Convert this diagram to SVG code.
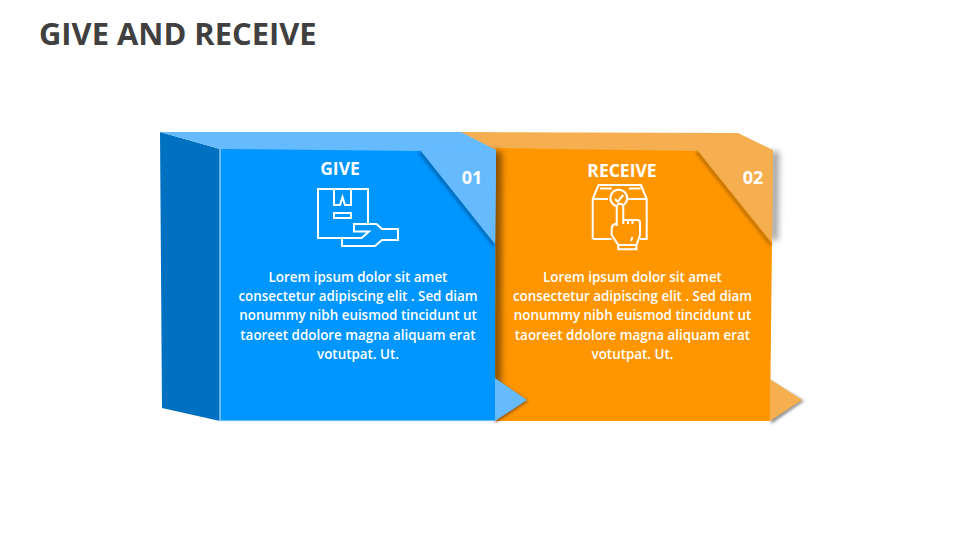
<svg xmlns="http://www.w3.org/2000/svg" width="960" height="540" viewBox="0 0 960 540">
<style>
text{font-family:"Open Sans","Liberation Sans",sans-serif;fill:#fff;text-anchor:middle}
.title{font-size:30.900px;font-weight:700;fill:#404040;text-anchor:start}
.head{font-size:17.500px;font-weight:700}
.num{font-size:18px;font-weight:700}
.body{font-size:13.400px;font-weight:600}
.ic{fill:none;stroke:#fff;stroke-width:2;stroke-linejoin:miter}
.bl{fill:#0096ff}.bt{fill:#66bbff}.bd{fill:#0070c0}
.ol{fill:#ff9600}.ot{fill:#f5ae50}
</style>
<defs>
<filter id="s" x="-200%" y="-30%" width="500%" height="160%"><feGaussianBlur stdDeviation="3"/></filter>
<filter id="s2" x="-30%" y="-30%" width="160%" height="160%"><feGaussianBlur stdDeviation="1.5"/></filter>
</defs>
<rect width="960" height="540" fill="#fff"/>
<text class="title" x="39" y="45">GIVE AND RECEIVE</text>
<g id="receive">
<path d="M770 151L779 152L778 240L770 240Z" fill="#444" opacity=".5" filter="url(#s)"/>
<path d="M770 381L804 401L771 424Z" fill="#444" opacity=".6" filter="url(#s2)"/>
<path class="ot" d="M460 132L738 133L773 150L772 245L500 160Z"/>
<path class="ol" d="M496 148L698 151L772 243L770 421L495 421Z"/>
<path d="M699 152L772 244L770 246L695 152Z" fill="#7a4a00" opacity=".55" filter="url(#s2)"/>
<path class="ot" d="M698 151L773 150L772 243Z"/>
<path class="ot" d="M770 379L802 400L770 421Z"/>
<text class="head" x="622" y="177">RECEIVE</text>
<text class="num" x="753" y="184">02</text>
<path class="ic" d="M592.700 239V199L598.500 185H641L646.700 199V239H640M592.700 239H611.700M592.700 199H608M628 199H646.700M600 188.500H611.700M629 188.500H640.700"/>
<path class="ic" d="M616 206A8.400 8.400 0 1 1 623.500 205M615 199L617.700 201.700L623.300 195"/>
<path class="ic" d="M616.700 226V207A3.300 3.300 0 0 1 623.300 207V220M623.300 224V220H628V224M628 220H632.500V224M632.500 220H637.500A2.500 2.500 0 0 1 640 222.500V235L636.500 245H618.300L611.700 235V228.500Q611.700 224.500 616.700 223.500M618.300 245V249.300H636.500V245M632.500 237L631 241"/>
<text class="body" x="632.500" y="282">Lorem ipsum dolor sit amet</text>
<text class="body" x="632.500" y="301">consectetur adipiscing elit . Sed diam</text>
<text class="body" x="632.500" y="320">nonummy nibh euismod tincidunt ut</text>
<text class="body" x="632.500" y="340">taoreet ddolore magna aliquam erat</text>
<text class="body" x="632.500" y="359">votutpat. Ut.</text>
</g>
<g id="give">
<path d="M490 150L502 152L501 412L490 412Z" fill="#5a3500" opacity=".7" filter="url(#s)"/>
<path d="M495 380L528 401L495 423Z" fill="#5a3500" opacity=".7" filter="url(#s2)"/>
<path class="bd" d="M160 132L220 149V421L162 408Z"/>
<path class="bt" d="M160 132H461L496 150L495 244L220 149Z"/>
<path class="bl" d="M220 149L421 151L495 244V421H220Z"/>
<path d="M220 149V421H495" fill="none" stroke="#cfe8ff" stroke-width="1"/>
<path d="M422 152L495 244L493 246L418 152Z" fill="#003c70" opacity=".6" filter="url(#s2)"/>
<path class="bt" d="M421 151L496 150L495 244Z"/>
<path class="bt" d="M495 378L527 400L495 421Z"/>
<text class="head" x="340" y="175">GIVE</text>
<text class="num" x="472" y="184">01</text>
<path class="ic" d="M368 224V189H318V238H342"/>
<path class="ic" d="M334 189V205H340L342.500 197L345 205H351V189"/>
<rect class="ic" x="334" y="213" width="17" height="5"/>
<path class="ic" d="M342 238V246H375L382 240H398V229H382L376.500 224H354V231.500H369L361.500 238H342"/>
<text class="body" x="358" y="282">Lorem ipsum dolor sit amet</text>
<text class="body" x="358" y="301">consectetur adipiscing elit . Sed diam</text>
<text class="body" x="358" y="320">nonummy nibh euismod tincidunt ut</text>
<text class="body" x="358" y="340">taoreet ddolore magna aliquam erat</text>
<text class="body" x="358" y="359">votutpat. Ut.</text>
</g>
</svg>
